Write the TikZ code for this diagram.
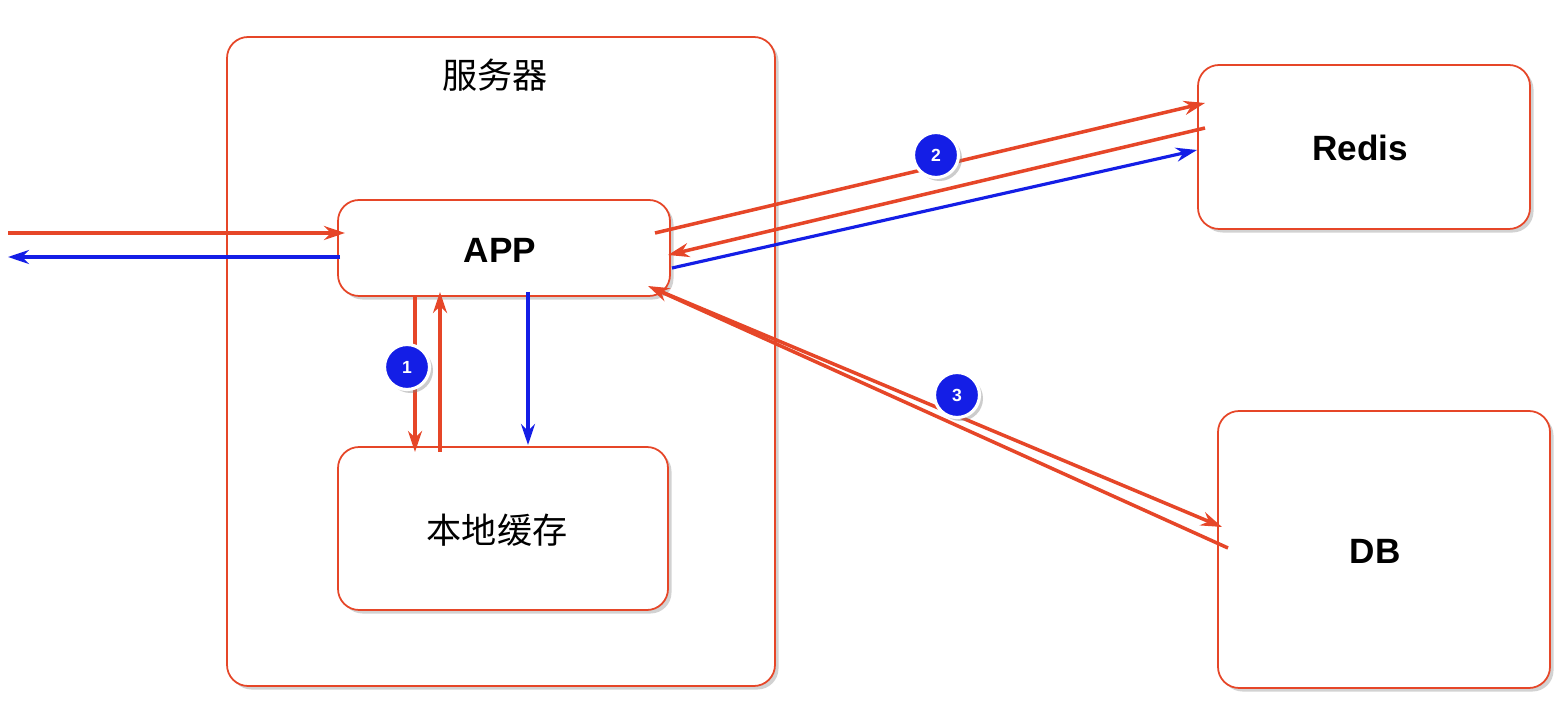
\documentclass[tikz,border=0pt]{standalone}
\usepackage{fontspec}
\setmainfont{Liberation Sans}
\newfontfamily\cjk{Noto Sans CJK SC}
\usetikzlibrary{shadows,arrows.meta}
\definecolor{rline}{RGB}{230,70,40}
\definecolor{bline}{RGB}{20,30,230}
\begin{document}
\begin{tikzpicture}[x=0.02cm,y=-0.02cm,
 box/.style={draw=rline,line width=1pt,rounded corners=12pt,fill=white,drop shadow={shadow xshift=2pt,shadow yshift=-2pt,opacity=0.35}},
 ra/.style={draw=rline,line width=2pt,-{Stealth[length=12pt,width=8pt]}},
 ba/.style={draw=bline,line width=1.8pt,-{Stealth[length=12pt,width=8pt]}},
 num/.style={circle,fill=bline,draw=white,line width=1.8pt,text=white,font=\bfseries,minimum size=0.9cm,inner sep=0pt,drop shadow={shadow xshift=2pt,shadow yshift=-2pt,opacity=0.4}},
 lbl/.style={font=\bfseries\fontsize{20}{24}\selectfont}]
\useasboundingbox (0,0) rectangle (1568,712);
\fill[white] (0,0) rectangle (1568,712);
\draw[box] (227,37) rectangle (775,686);
\node[font=\cjk\fontsize{20}{24}\selectfont] (srv) at (495,75) {服务器};
\draw[box] (338,200) rectangle (670,296);
\node[lbl] (app) at (500,250) {APP};
\draw[box] (338,447) rectangle (668,610);
\node[font=\cjk\fontsize{20}{24}\selectfont] (cache) at (497,530) {本地缓存};
\draw[box] (1198,65) rectangle (1530,229);
\node[lbl] (redis) at (1360,148) {Redis};
\draw[box] (1218,411) rectangle (1550,688);
\node[lbl] (db) at (1375,551) {DB};
\coordinate (l1) at (8,233); \coordinate (l1e) at (345,233);
\coordinate (l2) at (340,257); \coordinate (l2e) at (8,257);
\draw[ra] (l1) -- (l1e);
\draw[ba] (l2) -- (l2e);
\coordinate (d1) at (415,297); \coordinate (d1e) at (415,452);
\coordinate (u1) at (440,452); \coordinate (u1e) at (440,292);
\coordinate (b1) at (528,292); \coordinate (b1e) at (528,445);
\draw[ra] (d1) -- (d1e);
\draw[ra] (u1) -- (u1e);
\draw[ba] (b1) -- (b1e);
\coordinate (r1) at (655,233); \coordinate (r1e) at (1205,103);
\coordinate (r2) at (1205,128); \coordinate (r2e) at (668,255);
\coordinate (r3) at (672,268); \coordinate (r3e) at (1197,150);
\draw[ra] (r1) -- (r1e);
\draw[ra] (r2) -- (r2e);
\draw[ba] (r3) -- (r3e);
\coordinate (s1) at (662,292); \coordinate (s1e) at (1222,527);
\coordinate (s2) at (1228,548); \coordinate (s2e) at (648,286);
\draw[ra] (s1) -- (s1e);
\draw[ra] (s2) -- (s2e);
\node[num] (n1) at (407,367) {1};
\node[num] (n2) at (936,155) {2};
\node[num] (n3) at (957,395) {3};
\end{tikzpicture}
\end{document}
